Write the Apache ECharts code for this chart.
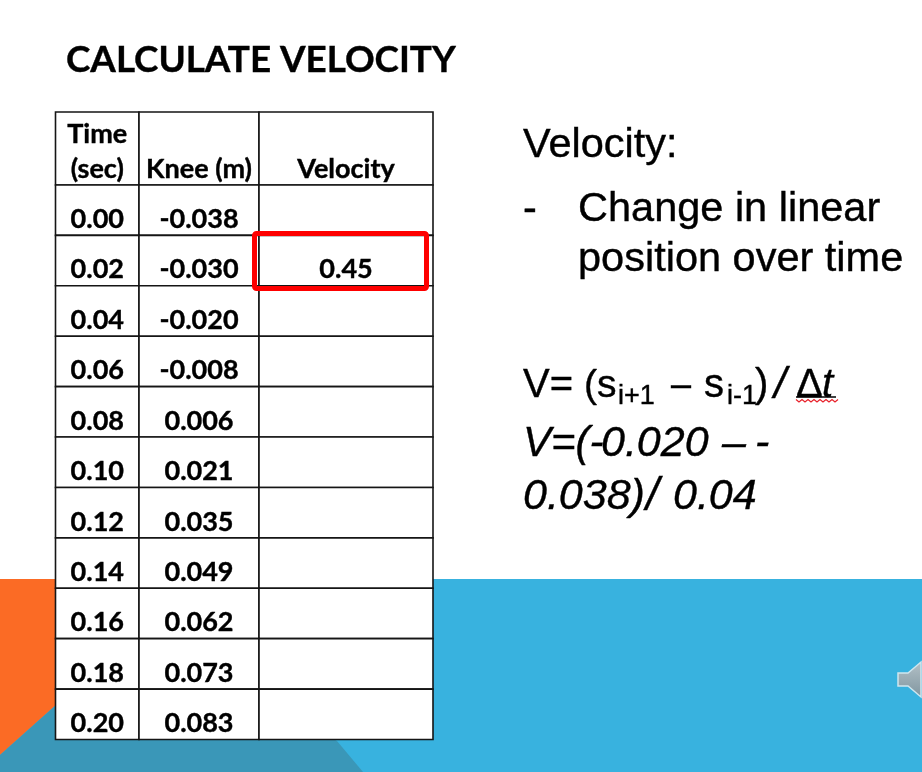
<!DOCTYPE html>
<html>
<head>
<meta charset="utf-8">
<style>
  html, body { margin: 0; padding: 0; background: #fff; }
  #main { width: 922px; height: 772px; }
</style>
<script src="https://cdn.jsdelivr.net/npm/echarts@6/dist/echarts.min.js"></script>
</head>
<body>
<div id="main"></div>
<script>
const headers = ['Time\n(sec)', 'Knee (m)', 'Velocity'];
const times = ['0.00', '0.02', '0.04', '0.06', '0.08', '0.10', '0.12', '0.14', '0.16', '0.18', '0.20'];
const knee = ['-0.038', '-0.030', '-0.020', '-0.008', '0.006', '0.021', '0.035', '0.049', '0.062', '0.073', '0.083'];
const velocity = ['', '0.45', '', '', '', '', '', '', '', '', ''];

// table layout, axis units are pixels across and rows down
const colEdges = [0, 83.5, 203.5, 377.5];
const headerRows = 1.447;

const tableFont = 'bold 27px Lato';
const bodyFont = '41.5px "Liberation Sans"';
const eqFont = '40px "Liberation Sans"';
const italicFont = 'italic 43px "Liberation Sans"';
const subFont = '27px "Liberation Sans"';

const cells = [];
headers.forEach((h, c) => cells.push([c, -1, h]));
times.forEach((t, r) => {
  cells.push([0, r, t]);
  cells.push([1, r, knee[r]]);
  cells.push([2, r, velocity[r]]);
});

function renderCell(params, api) {
  const col = api.value(0);
  const row = api.value(1);
  const top = row < 0 ? -headerRows : row;
  const bottom = row < 0 ? 0 : row + 1;
  const p0 = api.coord([colEdges[col], top]);
  const p1 = api.coord([colEdges[col + 1], bottom]);
  return {
    type: 'group',
    children: [
      {
        type: 'rect',
        shape: { x: p0[0], y: p0[1], width: p1[0] - p0[0], height: p1[1] - p0[1] },
        style: { fill: '#fff', stroke: '#151515', lineWidth: 1.6 }
      },
      {
        type: 'text',
        x: (p0[0] + p1[0]) / 2,
        y: p1[1] + 1.5,
        style: {
          text: api.value(2),
          font: tableFont,
          fill: '#000',
          stroke: '#000',
          lineWidth: 0.4,
          align: 'center',
          verticalAlign: 'bottom',
          lineHeight: 35
        }
      }
    ]
  };
}

function label(text, x, y, font) {
  return {
    type: 'text', x, y, z: 10,
    style: { text, font, fill: '#000', stroke: '#000', lineWidth: 0.4, align: 'left', verticalAlign: 'middle' }
  };
}

const backdrop = [
  { type: 'rect', z: 0, shape: { x: 0, y: 579, width: 922, height: 193 }, style: { fill: '#38b2df' } },
  { type: 'polygon', z: 1, shape: { points: [[0, 579], [140, 579], [140, 630], [0, 755]] }, style: { fill: '#fb6b25' } },
  { type: 'polygon', z: 1, shape: { points: [[0, 755], [140, 630], [337, 741], [363, 772], [0, 772]] }, style: { fill: '#3a97b8' } }
];

const speaker = {
  type: 'polygon', z: 5,
  shape: { points: [[898, 673], [908, 673], [921, 662], [921, 697], [908, 686], [898, 686]] },
  style: {
    stroke: '#cfe6ee', lineWidth: 1.5,
    fill: new echarts.graphic.LinearGradient(0, 0, 0, 1, [
      { offset: 0, color: '#b4c1c7' },
      { offset: 1, color: '#7f959f' }
    ])
  }
};

// spell check underline below the delta t
const squiggle = [];
for (let i = 0; i <= 14; i++) squiggle.push([796 + i * 3, 399.5 + (i % 2) * 2.5]);

const option = {
  animation: false,
  grid: { left: 55.5, top: 112, width: 377.5, height: 627.5 },
  xAxis: { type: 'value', min: 0, max: 377.5, show: false },
  yAxis: { type: 'value', min: -headerRows, max: times.length, inverse: true, show: false },
  series: [{
    type: 'custom',
    z: 3,
    coordinateSystem: 'cartesian2d',
    renderItem: renderCell,
    encode: { x: 0, y: 1 },
    data: cells,
    silent: true
  }],
  graphic: [
    ...backdrop,
    speaker,
    label('CALCULATE VELOCITY', 66, 60, 'bold 36.8px Lato'),
    label('Velocity:', 523, 146, bodyFont),
    label('-', 523, 210, bodyFont),
    label('Change in linear', 578, 210, bodyFont),
    label('position over time', 578, 260, bodyFont),
    label('V=', 523, 386, eqFont),
    label('(s', 584, 386, '39px "Liberation Sans"'),
    label('i+1', 618, 397, subFont),
    label('–', 671, 386, '36px "Liberation Sans"'),
    label('s', 704, 386, eqFont),
    label('i-1', 727, 397, subFont),
    label(')', 755, 386, eqFont),
    label('/', 774, 386, 'italic 44px "Liberation Sans"'),
    label('Δ', 796, 386, eqFont),
    label('t', 822, 386, 'italic 40px "Liberation Sans"'),
    { type: 'line', z: 10, shape: { x1: 796, y1: 397, x2: 836, y2: 397 }, style: { stroke: '#000', lineWidth: 1.5 } },
    { type: 'polyline', z: 10, shape: { points: squiggle }, style: { stroke: '#e8202a', lineWidth: 1.2, fill: null } },
    label('V=(-', 523, 444, 'italic 42px "Liberation Sans"'),
    label('0.020', 601, 444, italicFont),
    label('–', 722, 444, italicFont),
    label('-', 755, 444, italicFont),
    label('0.038)', 523, 497, italicFont),
    label('/', 646, 497, 'italic 46px "Liberation Sans"'),
    label('0.04', 673, 497, italicFont),
    { type: 'rect', z: 12, shape: { x: 254.5, y: 233.5, width: 172, height: 55, r: 2 }, style: { fill: null, stroke: '#fe0000', lineWidth: 5 } }
  ]
};

const myChart = echarts.init(document.getElementById('main'), null, { renderer: 'canvas' });
myChart.setOption(option);
</script>
</body>
</html>
